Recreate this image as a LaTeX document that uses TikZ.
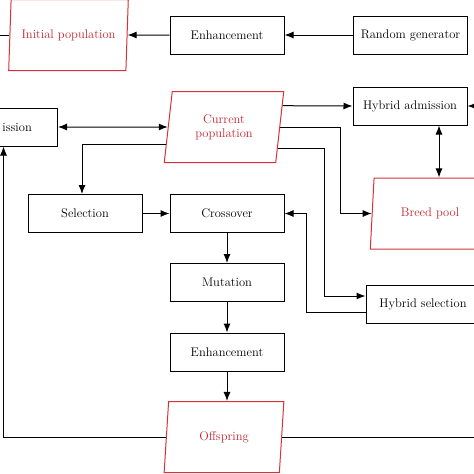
\documentclass[tikz,border=0pt]{standalone}
\usetikzlibrary{shapes.geometric,arrows.meta,calc}
\definecolor{redtxt}{RGB}{195,40,50}
\definecolor{redline}{RGB}{215,50,60}
\begin{document}
\begin{tikzpicture}[x=1pt,y=-1pt,
  font=\fontsize{12.5}{14}\selectfont,
  box/.style={draw, line width=1pt, minimum width=114pt, minimum height=38pt, inner sep=0pt},
  para/.style={draw=redline, text=redtxt, line width=1pt, trapezium,
    trapezium left angle=80, trapezium right angle=100, trapezium stretches=true,
    minimum width=120pt, minimum height=71pt, inner sep=0pt, align=center},
  arr/.style={-{Latex[length=9pt,width=7pt]}, line width=1pt},
  darr/.style={{Latex[length=9pt,width=7pt]}-{Latex[length=9pt,width=7pt]}, line width=1pt},
  ln/.style={line width=1pt}]
\useasboundingbox (0,0) rectangle (474,474);
\clip (0,0) rectangle (474,474);
\fill[white] (0,0) rectangle (474,474);

% nodes
\node[para] (init) at (68.5,35) {Initial population};
\node[box] (enh1) at (227,35) {Enhancement};
\node[box] (rg) at (410.5,35) {Random generator};
\node[box, anchor=east] (adm) at (58,127) {};
\node[anchor=east, inner sep=0pt] (admt) at (32,127) {ission};
\node[para] (cur) at (224,127) {Current\\population};
\node[box] (hadm) at (410,106) {Hybrid admission};
\node[box] (sel) at (85,213.5) {Selection};
\node[box] (cro) at (227,213.5) {Crossover};
\node[para] (bp) at (430,213.5) {Breed pool};
\node[box] (mut) at (227,282.5) {Mutation};
\node[box] (hsel) at (423,304) {Hybrid selection};
\node[box] (enh2) at (227,352) {Enhancement};
\node[para] (off) at (224,437) {Offspring};

\coordinate (leftout) at (-10,0);
\coordinate (rightout) at (490,0);
\coordinate (hb) at ($(hadm.south)+(29,0)$);

% connectors
\draw[arr] (rg) -- (enh1);
\draw[arr] (enh1) -- (init);
\draw[ln] (init.west) -- (init.west -| leftout);
\draw[darr] (adm.east) -- (cur.west);
\draw[arr] ($(cur.top right corner)!0.2042!(cur.bottom right corner)$) -- (hadm.west);
\draw[arr] (hadm.east -| rightout) -- (hadm.east);
\draw[darr] (hb) -- (hb |- bp.north);
\draw[arr] (cur.east) -| ($(bp.west)+(-31,0)$) -- (bp.west);
\draw[arr] ($(cur.top right corner)!0.8!(cur.bottom right corner)$) -| ($(hsel.west)+(-41,-8)$) -- ($(hsel.west)+(0,-8)$);
\draw[arr] ($(hsel.west)+(0,8)$) -| ($(cro.east)+(22,0)$) -- (cro.east);
\draw[arr] ($(cur.top left corner)!0.74!(cur.bottom left corner)$) -| ($(sel.north)+(-3,0)$);
\draw[arr] (sel) -- (cro);
\draw[arr] (cro) -- (mut);
\draw[arr] (mut) -- (enh2);
\draw[arr] (enh2.south) -- (enh2.south |- off.north);
\draw[arr] (off.west) -| ($(adm.south)+(3,0)$);
\draw[ln] (off.east) -- (off.east -| rightout);
\end{tikzpicture}
\end{document}
